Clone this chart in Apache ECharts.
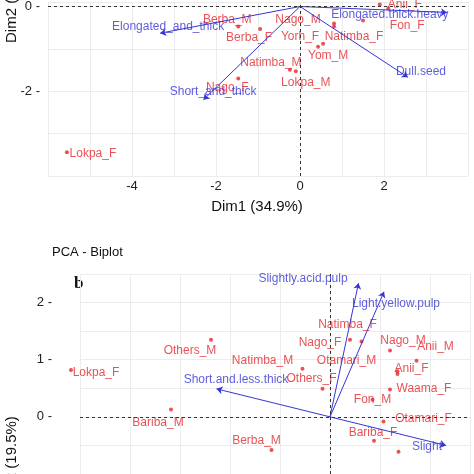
<!DOCTYPE html>
<html><head><meta charset="utf-8">
<script src="https://cdn.jsdelivr.net/npm/echarts@6/dist/echarts.min.js"></script>
<style>html,body{margin:0;padding:0;background:#fff}#c{width:474px;height:474px}</style>
</head><body><div id="c"></div>
<script>
// ---- Panel a (top) ----
const topNames = ['Berba_M','Berba_F','Nago_M','Natimba_F','Yorh_F','Yom_M','Natimba_M','Lokpa_M','Nago_F','Lokpa_F','Gold','Anii_F','Fon_F'];
const topX = [-1.47,-0.95,0.81,0.81,0.43,0.55,-0.24,-0.10,-1.47,-5.55,1.50,1.90,2.10];
const topY = [-0.47,-0.53,-0.40,-0.47,-0.95,-0.88,-1.49,-1.53,-1.70,-3.44,-0.33,0.05,-0.05];
const topVarNames = ['Elongated_and_thick','Short_and_thick','Dull.seed','Elongated.thick.heavy'];
const topVarX = [-3.33,-2.30,2.57,3.50];
const topVarY = [-0.63,-2.20,-1.67,-0.14];
const topVarLabX = [-3.14,-2.07,2.88,2.14];
const topVarLabY = [-0.47,-2.02,-1.53,-0.19];
const topXTicks = [-4,-2,0,2];
const topYTicks = [-2,0];
// ---- Panel b (bottom) ----
const botNames = ['Lokpa_F','Others_M','Bariba_M','Berba_M','Natimba_M','Others_F','Nago_F','Natimba_F','Nago_M','Anii_M','Otamari_M','Anii_F','Waama_F','Fon_M','Otamari_F','Bariba_F',''];
const botX = [-5.18,-2.38,-3.18,-1.17,-0.55,-0.15,0.40,0.63,1.20,1.73,1.35,1.35,1.20,0.85,1.07,0.88,1.37];
const botY = [0.82,1.35,0.13,-0.58,0.84,0.49,1.35,1.32,1.16,0.98,0.80,0.75,0.48,0.30,-0.08,-0.42,-0.61];
const botVarNames = ['Slightly.acid.pulp','Light.yellow.pulp','Short.and.less.thick','Slight'];
const botVarX = [0.57,1.08,-2.27,2.32];
const botVarY = [2.34,2.19,0.49,-0.50];
const botVarLabX = [-0.54,1.32,-1.88,1.94];
const botVarLabY = [2.42,1.98,0.65,-0.53];
const botYTicks = [0,1,2];

// label offsets (styling, px from point)
const topOff = {Berba_M:[-11,-7],Berba_F:[-11,9],Nago_M:[-36,-4],Natimba_F:[20,10],Yorh_F:[-18,-10],Yom_M:[5,12],Natimba_M:[-19,-7],Lokpa_M:[10,11],Nago_F:[-11,9],Lokpa_F:[26,1],Gold:[0,0],Anii_F:[25,0],Fon_F:[19,17]};
const botOff = {Lokpa_F:[25,3],Others_M:[-21,11],Bariba_M:[-13,13],Berba_M:[-15,-9],Natimba_M:[-40,-8],Others_F:[-11,-10],Nago_F:[-30,3],Natimba_F:[-14,-17],Nago_M:[13,-10],Anii_M:[19,-14],Otamari_M:[-51,-10],Anii_F:[14,-5],Waama_F:[34,-1],Fon_M:[0,0],Otamari_F:[40,-3],Bariba_F:[-1,-8],'':[0,0]};

const RED='#e3262b', BLUE='#3535d6', GRID='#ececec';
function pts(names,xs,ys,off){
  return names.map((n,i)=>({value:[xs[i],ys[i]],name:n,
    label:{show:n!==''&&n!=='Gold',formatter:n,position:'inside',offset:off[n],color:RED,fontSize:12,fontFamily:'Liberation Sans'}}));
}
function arrows(xs,ys){return xs.map((x,i)=>({coords:[[0,0],[x,ys[i]]]}));}
function varLabels(names,xs,ys){return names.map((n,i)=>({value:[xs[i],ys[i]],label:{show:true,formatter:n,position:'inside',color:BLUE,fontSize:12,fontFamily:'Liberation Sans'}}));}
const zeroLines={silent:true,symbol:'none',label:{show:false},lineStyle:{color:'#333',type:[3,3],width:1},data:[{xAxis:0},{yAxis:0}]};
function axisCommon(){return {splitLine:{show:true,lineStyle:{color:GRID}},axisLine:{show:false},axisTick:{show:false},axisLabel:{color:'#222',fontSize:13,fontFamily:'Liberation Sans'}};}

const chart=echarts.init(document.getElementById('c'));
chart.setOption({
  animation:false,
  grid:[{left:48,top:0,width:420,height:176},{left:80,top:274,width:390,height:217}],
  xAxis:[
    Object.assign(axisCommon(),{gridIndex:0,type:'value',min:-6,max:4,interval:1,axisLabel:{color:'#222',fontSize:13,margin:4,fontFamily:'Liberation Sans',formatter:v=>topXTicks.includes(v)?String(v):''}}),
    Object.assign(axisCommon(),{gridIndex:1,type:'value',min:-5,max:2.8,interval:1,axisLabel:{show:false}})
  ],
  yAxis:[
    Object.assign(axisCommon(),{gridIndex:0,type:'value',min:-4,max:0.093,interval:1,axisLabel:{color:'#222',fontSize:13,fontFamily:'Liberation Sans',formatter:v=>topYTicks.includes(v)?v+' -':''}}),
    Object.assign(axisCommon(),{gridIndex:1,type:'value',min:-1,max:2.5,interval:0.5,axisLabel:{color:'#222',fontSize:13,margin:28,fontFamily:'Liberation Sans',formatter:v=>botYTicks.includes(v)?v+' -':''}})
  ],
  series:[
    {type:'scatter',xAxisIndex:0,yAxisIndex:0,clip:false,symbolSize:4,itemStyle:{color:RED},data:pts(topNames,topX,topY,topOff),markLine:zeroLines,z:3},
    {type:'lines',coordinateSystem:'cartesian2d',xAxisIndex:0,yAxisIndex:0,symbol:['none','arrow'],symbolSize:6,lineStyle:{color:BLUE,width:1,opacity:1},data:arrows(topVarX,topVarY),z:4},
    {type:'scatter',xAxisIndex:0,yAxisIndex:0,clip:false,symbolSize:0,data:varLabels(topVarNames,topVarLabX,topVarLabY),z:5},
    {type:'scatter',xAxisIndex:1,yAxisIndex:1,clip:false,symbolSize:4,itemStyle:{color:RED},data:pts(botNames,botX,botY,botOff),markLine:zeroLines,z:3},
    {type:'lines',coordinateSystem:'cartesian2d',xAxisIndex:1,yAxisIndex:1,symbol:['none','arrow'],symbolSize:6,lineStyle:{color:BLUE,width:1,opacity:1},data:arrows(botVarX,botVarY),z:4},
    {type:'scatter',xAxisIndex:1,yAxisIndex:1,clip:false,symbolSize:0,data:varLabels(botVarNames,botVarLabX,botVarLabY),z:5}
  ],
  graphic:[
    {type:'rect',left:0,top:0,shape:{width:474,height:474},style:{fill:'#fff'},z:-10},
    {type:'text',x:257,y:207,style:{text:'Dim1 (34.9%)',font:'15px Liberation Sans',fill:'#111',align:'center',verticalAlign:'middle'}},
    {type:'text',x:12,y:43,rotation:Math.PI/2,style:{text:'Dim2 (14.3%)',font:'15px Liberation Sans',fill:'#111',align:'left',verticalAlign:'middle'}},
    {type:'text',x:52,y:252,style:{text:'PCA - Biplot',font:'13px Liberation Sans',fill:'#111',verticalAlign:'middle'}},
    {type:'text',x:74,y:284,style:{text:'b',font:'bold 17px Liberation Serif',fill:'#111',verticalAlign:'middle'}},
    {type:'text',x:12,y:462,rotation:Math.PI/2,style:{text:'Dim2 (19.5%)',font:'15px Liberation Sans',fill:'#111',align:'center',verticalAlign:'middle'}}
  ]
});
</script></body></html>
